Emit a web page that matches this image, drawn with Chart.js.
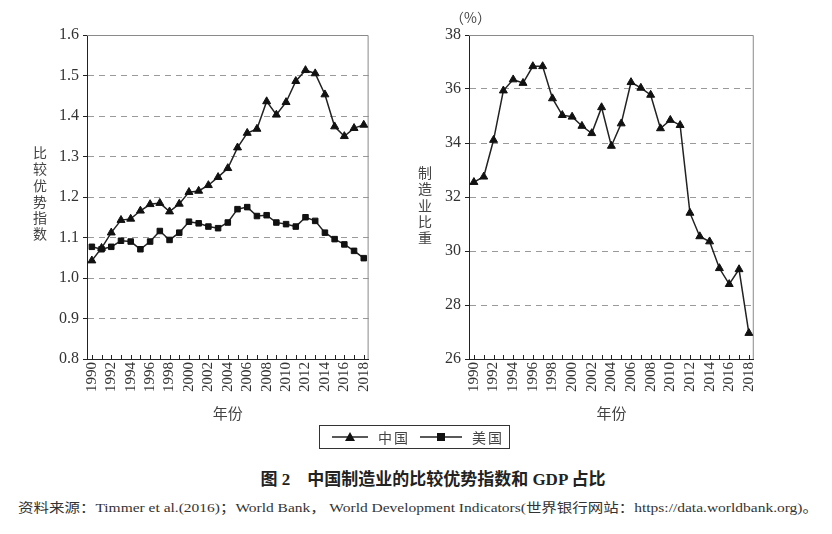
<!DOCTYPE html>
<html>
<head>
<meta charset="utf-8">
<script src="https://cdn.jsdelivr.net/npm/chart.js@4/dist/chart.umd.min.js"></script>
<style>
  html, body { margin:0; padding:0; background:#fff; }
  body { width:832px; height:534px; position:relative; overflow:hidden;
         font-family:"Liberation Serif","Noto Sans CJK SC",serif; color:#333; }
  .abs { position:absolute; }
  #c1 { left:0; top:0; }
  #c2 { left:390px; top:0; }
  .vtitle { position:absolute; font-family:"Noto Sans CJK SC",sans-serif; font-size:14px;
            line-height:16.3px; width:16px; text-align:center; color:#444; }
  #legend { left:319px; top:425px; width:189px; height:22px; border:1px solid #333;
            font-family:"Noto Sans CJK SC",sans-serif; font-size:14px; color:#444; }
  #legend svg { position:absolute; top:4px; }
  #legend span { position:absolute; top:1px; letter-spacing:2px; }
  #caption { left:0; width:866px; top:465px; text-align:center; font-weight:bold; font-size:17px;
             font-family:"Liberation Serif","Noto Sans CJK SC",serif; color:#222; }
  #source { left:18px; top:497px; font-size:13px; white-space:nowrap; transform-origin:0 0; color:#333;
            font-family:"Liberation Serif","Noto Sans CJK SC",serif; }
</style>
</head>
<body>
<canvas id="c1" class="abs" width="385" height="430" style="width:385px;height:430px"></canvas>
<canvas id="c2" class="abs" width="380" height="430" style="width:380px;height:430px"></canvas>

<div class="vtitle" style="left:32px;top:144px">比<br>较<br>优<br>势<br>指<br>数</div>
<div class="vtitle" style="left:417px;top:164px">制<br>造<br>业<br>比<br>重</div>
<div class="abs" style="left:450px;top:7px;font-size:14px;color:#444;font-family:'Noto Sans CJK SC',sans-serif">（%）</div>

<div id="legend" class="abs">
  <svg style="left:12px" width="38" height="14"><line x1="0" y1="7" x2="36" y2="7" stroke="#222" stroke-width="1.5"/><polygon points="18,2 23,11 13,11" fill="#111"/></svg>
  <span style="left:58px">中国</span>
  <svg style="left:100px" width="44" height="14"><line x1="0" y1="7" x2="42" y2="7" stroke="#222" stroke-width="1.5"/><rect x="17" y="3" width="8" height="8" fill="#111"/></svg>
  <span style="left:152px">美国</span>
</div>

<div id="caption" class="abs">图 2&emsp;中国制造业的比较优势指数和 GDP 占比</div>
<div id="source" class="abs">资料来源：Timmer et al.(2016)；World Bank， World Development Indicators(世界银行网站：https://data.worldbank.org)。</div>

<script>
// ---- data ----
const years = [1990,1991,1992,1993,1994,1995,1996,1997,1998,1999,2000,2001,2002,2003,2004,
               2005,2006,2007,2008,2009,2010,2011,2012,2013,2014,2015,2016,2017,2018];
const chinaRCA = [1.043,1.074,1.112,1.143,1.146,1.166,1.182,1.185,1.164,1.183,1.212,1.215,1.229,1.249,1.271,
                  1.322,1.358,1.368,1.436,1.403,1.434,1.486,1.513,1.505,1.453,1.374,1.350,1.370,1.378];
const usRCA = [1.077,1.071,1.077,1.092,1.090,1.071,1.090,1.116,1.094,1.112,1.139,1.135,1.127,1.123,1.137,
               1.170,1.175,1.153,1.155,1.137,1.133,1.127,1.150,1.141,1.112,1.096,1.083,1.067,1.049];
const chinaShare = [32.55,32.75,34.11,35.94,36.35,36.22,36.84,36.84,35.65,35.03,34.97,34.63,34.36,35.32,33.89,
                    34.72,36.25,36.04,35.78,34.54,34.85,34.66,31.41,30.54,30.35,29.36,28.77,29.32,26.96];
const seriesNames = ['中国','美国'];
const xTitle = '年份';

const INK = '#222';
const tickFontY = {family:'Liberation Serif', size:16};
const tickFontX = {family:'Liberation Serif', size:15};

const framePlugin = {
  id:'frame',
  beforeDatasetsDraw(chart){
    const {ctx, chartArea:a, scales:{x}} = chart;
    ctx.save();
    ctx.lineWidth = 1;
    ctx.setLineDash([]);
    ctx.strokeStyle = '#8a8a8a';
    ctx.beginPath();
    ctx.moveTo(a.left, a.top + 0.5);
    ctx.lineTo(a.right - 0.5, a.top + 0.5);
    ctx.lineTo(a.right - 0.5, a.bottom);
    ctx.stroke();
    ctx.strokeStyle = INK;
    ctx.beginPath();
    x.ticks.forEach(t => {
      const px = Math.round(x.getPixelForValue(t.value)) + 0.5;
      ctx.moveTo(px, a.bottom);
      ctx.lineTo(px, a.bottom - 4);
    });
    ctx.stroke();
    ctx.restore();
  }
};

function makeOptions(yMin, yMax, yStep, yDec, yWidth, xHeight, padRight){
  return {
    responsive:false, animation:false, devicePixelRatio:1,
    layout:{padding:{top:35, right:padRight, left:0, bottom:0}},
    plugins:{legend:{display:false}, tooltip:{enabled:false}},
    scales:{
      x:{
        type:'linear', min:1989.5, max:2018.5,
        afterBuildTicks: s => { s.ticks = years.map(v => ({value:v})); },
        afterFit: s => { s.height = xHeight; },
        ticks:{ autoSkip:false, maxRotation:90, minRotation:90, padding:3, color:'#333', font:tickFontX,
                callback: v => (v % 2 === 0 ? String(v) : '') },
        grid:{ drawOnChartArea:false, drawTicks:false },
        border:{ color:INK, width:1 },
        title:{ display:true, text:xTitle, color:'#444', padding:{top:0,bottom:8},
                font:{family:'Noto Sans CJK SC', size:15} }
      },
      y:{
        min:yMin, max:yMax,
        afterFit: s => { s.width = yWidth; },
        ticks:{ stepSize:yStep, padding:4, color:'#333', font:tickFontY,
                callback: v => Number(v).toFixed(yDec) },
        grid:{
          color: c => (c.tick && (Math.abs(c.tick.value - yMin) < 1e-9 || Math.abs(c.tick.value - yMax) < 1e-9)) ? 'rgba(0,0,0,0)' : '#9a9a9a',
          tickBorderDash:[], tickColor:INK, tickLength:4, lineWidth:1
        },
        border:{ color:INK, width:1, dash:[6,5] }
      }
    }
  };
}

const lineStyle = { borderColor:INK, borderWidth:1.5, pointBackgroundColor:'#111', pointBorderColor:'#111',
                    pointBorderWidth:1, tension:0 };

new Chart(document.getElementById('c1'), {
  type:'line',
  data:{ datasets:[
    Object.assign({ label:seriesNames[0], data: years.map((y,i)=>({x:y, y:chinaRCA[i]})),
                    pointStyle:'triangle', pointRadius:4.6 }, lineStyle),
    Object.assign({ label:seriesNames[1], data: years.map((y,i)=>({x:y, y:usRCA[i]})),
                    pointStyle:'rect', pointRadius:3.9 }, lineStyle)
  ]},
  options: makeOptions(0.8, 1.6, 0.1, 1, 87, 71, 14),
  plugins:[framePlugin]
});

new Chart(document.getElementById('c2'), {
  type:'line',
  data:{ datasets:[
    Object.assign({ label:seriesNames[0], data: years.map((y,i)=>({x:y, y:chinaShare[i]})),
                    pointStyle:'triangle', pointRadius:4.6 }, lineStyle)
  ]},
  options: makeOptions(26, 38, 2, 0, 79, 71, 8),
  plugins:[framePlugin]
});

// fit source line to its measured width in the reference
const src = document.getElementById('source');
const w = src.getBoundingClientRect().width;
src.style.transform = 'scaleX(' + (800 / w) + ')';
</script>
</body>
</html>
